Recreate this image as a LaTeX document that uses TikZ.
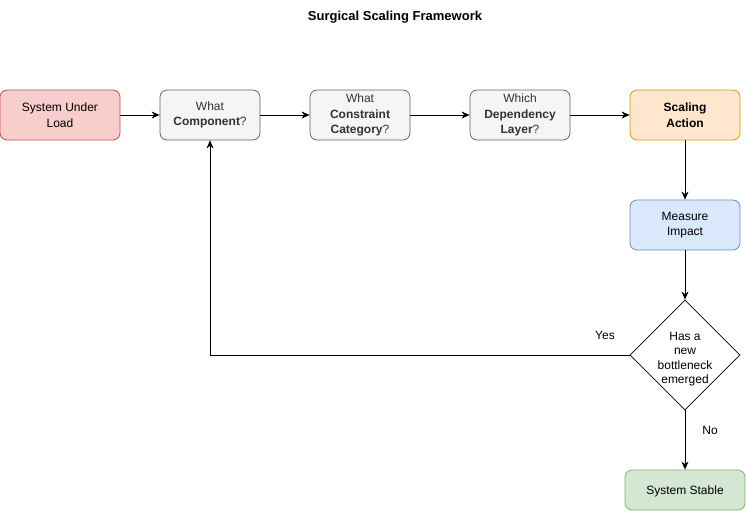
\documentclass[tikz,border=0pt]{standalone}
\usepackage{fontspec}
\setmainfont{Liberation Sans}
\usetikzlibrary{arrows.meta,shapes.geometric}
\definecolor{redF}{HTML}{F8CECC}\definecolor{redS}{HTML}{B85450}
\definecolor{grayF}{HTML}{F5F5F5}\definecolor{grayS}{HTML}{666666}\definecolor{grayT}{HTML}{333333}
\definecolor{orgF}{HTML}{FFE6CC}\definecolor{orgS}{HTML}{D79B00}
\definecolor{bluF}{HTML}{DAE8FC}\definecolor{bluS}{HTML}{6C8EBF}
\definecolor{grnF}{HTML}{D5E8D4}\definecolor{grnS}{HTML}{82B366}
\tikzset{
  x=1pt,y=-1pt,
  box/.style={draw,rounded corners=7pt,line width=0.8pt,minimum width=100pt,minimum height=50pt,align=center,inner sep=2pt,
    font=\fontsize{12}{15.5}\selectfont,execute at begin node={\rule{0pt}{12pt}}},
  redbox/.style={box,fill=redF,draw=redS},
  graybox/.style={box,fill=grayF,draw=grayS,text=grayT},
  orgbox/.style={box,fill=orgF,draw=orgS},
  blubox/.style={box,fill=bluF,draw=bluS},
  grnbox/.style={box,fill=grnF,draw=grnS},
  dec/.style={draw,diamond,aspect=1,minimum width=110pt,minimum height=110pt,inner sep=0pt,line width=0.8pt},
  dectext/.style={align=center,inner sep=0pt,font=\fontsize{12}{14.5}\selectfont},
  conn/.style={line width=0.8pt,-{Stealth[length=8pt,width=7pt,inset=2.5pt]}},
  lbl/.style={font=\fontsize{12}{15}\selectfont}
}
\begin{document}
\begin{tikzpicture}
\useasboundingbox (0,0) rectangle (746,511);
\node[font=\bfseries\fontsize{13}{16}\selectfont] (title) at (395,17) {Surgical Scaling Framework};
\node[redbox,minimum width=120pt] (load) at (60,115) {System Under\\Load};
\node[graybox] (comp) at (210,115) {What\\\textbf{Component}?};
\node[graybox] (cat) at (360,115) {What\\\textbf{Constraint}\\\textbf{Category}?};
\node[graybox] (dep) at (520,115) {Which\\\textbf{Dependency}\\\textbf{Layer}?};
\node[orgbox,minimum width=110pt] (act) at (685,115) {\textbf{Scaling}\\\textbf{Action}};
\node[blubox,minimum width=110pt] (meas) at (685,225) {Measure\\Impact};
\node[dec] (q) at (685,355) {};
\node[dectext] (qt) at (685,359) {Has a\\new\\bottleneck\\emerged};
\node[grnbox,minimum width=120pt,minimum height=40pt] (stable) at (685,490) {System Stable};
\draw[conn] (load) -- (comp);
\draw[conn] (comp) -- (cat);
\draw[conn] (cat) -- (dep);
\draw[conn] (dep) -- (act);
\draw[conn] (act) -- (meas);
\draw[conn] (meas) -- (q);
\draw[conn] (q.west) -- (comp.south |- q.west) -- (comp.south);
\draw[conn] (q.south) -- (stable.north);
\node[lbl] (yes) at (605,335) {Yes};
\node[lbl] (no) at (710,430) {No};
\end{tikzpicture}
\end{document}
